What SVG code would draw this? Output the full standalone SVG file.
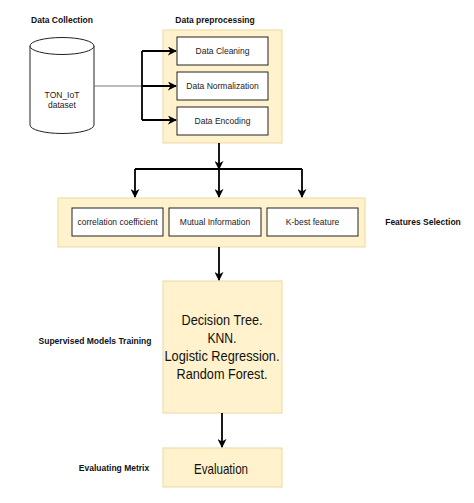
<svg xmlns="http://www.w3.org/2000/svg" width="474" height="503" viewBox="0 0 474 503">
<style>
.bg{fill:#ffffff}
.yel{fill:#fff2cc;stroke:#ecd9a0;stroke-width:1}
.box{fill:#ffffff;stroke:#222222;stroke-width:1}
.t{font-family:"Liberation Sans",Arial,sans-serif;font-size:8.5px;fill:#222222;text-anchor:middle}
.h{font-family:"Liberation Sans",Arial,sans-serif;font-size:8.5px;font-weight:bold;fill:#111111;text-anchor:middle}
.big{font-family:"Liberation Sans",Arial,sans-serif;font-size:14.5px;fill:#111111;text-anchor:middle}
.c{fill:none;stroke:#000000;stroke-width:1.8}
.g{fill:none;stroke:#777777;stroke-width:1}
</style>
<defs>
<marker id="ah" viewBox="0 0 10 10" refX="9" refY="5" markerWidth="5" markerHeight="5" orient="auto" markerUnits="strokeWidth">
<path d="M0,0 L10,5 L0,10 L3,5 Z" fill="#000000"/>
</marker>
</defs>
<rect class="bg" x="0" y="0" width="474" height="503"/>

<g id="labels">
<text class="h" x="62" y="23">Data Collection</text>
<text class="h" x="215" y="23">Data preprocessing</text>
<text class="h" x="423" y="225">Features Selection</text>
<text class="h" x="95" y="344">Supervised Models Training</text>
<text class="h" x="114" y="471">Evaluating Metrix</text>
</g>

<g id="dataset">
<path d="M30,46 L30,125 A32,8.5 0 0 0 94,125 L94,46" fill="#ffffff" stroke="#222222" stroke-width="1"/>
<ellipse cx="62" cy="46" rx="32" ry="8.5" fill="#ffffff" stroke="#222222" stroke-width="1"/>
<text class="t" x="62" y="98">TON_IoT</text>
<text class="t" x="62" y="108">dataset</text>
</g>

<g id="preprocessing">
<rect class="yel" x="163" y="30" width="119" height="113"/>
<g id="cleaning"><rect class="box" x="177" y="37" width="91" height="28"/><text class="t" x="222.5" y="54">Data Cleaning</text></g>
<g id="normalization"><rect class="box" x="177" y="72" width="91" height="28"/><text class="t" x="222.5" y="89">Data Normalization</text></g>
<g id="encoding"><rect class="box" x="177" y="107" width="91" height="28"/><text class="t" x="222.5" y="124">Data Encoding</text></g>
</g>

<g id="features">
<rect class="yel" x="58" y="198" width="307" height="49"/>
<g id="correlation"><rect class="box" x="72" y="208" width="91" height="28"/><text class="t" x="117.5" y="225">correlation coefficient</text></g>
<g id="mutual"><rect class="box" x="169" y="208" width="92" height="28"/><text class="t" x="215" y="225">Mutual Information</text></g>
<g id="kbest"><rect class="box" x="267" y="208" width="91" height="28"/><text class="t" x="312.5" y="225">K-best feature</text></g>
</g>

<g id="models">
<rect class="yel" x="163" y="281" width="119" height="132"/>
<text class="big" x="222" y="325" textLength="81" lengthAdjust="spacingAndGlyphs">Decision Tree.</text>
<text class="big" x="222" y="343" textLength="29" lengthAdjust="spacingAndGlyphs">KNN.</text>
<text class="big" x="222" y="361" textLength="115" lengthAdjust="spacingAndGlyphs">Logistic Regression.</text>
<text class="big" x="222" y="379" textLength="91" lengthAdjust="spacingAndGlyphs">Random Forest.</text>
</g>

<g id="evaluation">
<rect class="yel" x="163" y="448" width="119" height="39"/>
<text class="big" x="221" y="474" textLength="54" lengthAdjust="spacingAndGlyphs">Evaluation</text>
</g>

<g id="connectors">
<path class="g" d="M94,86 L142,86"/>
<path class="c" d="M142,51 L142,120"/>
<path class="c" d="M142,51 L176,51" marker-end="url(#ah)"/>
<path class="c" d="M142,86 L176,86" marker-end="url(#ah)"/>
<path class="c" d="M142,120 L176,120" marker-end="url(#ah)"/>
<path class="c" d="M219,143 L219,169" marker-end="url(#ah)"/>
<path class="c" d="M135,169 L302,169"/>
<path class="c" d="M135,169 L135,197" marker-end="url(#ah)"/>
<path class="c" d="M219,169 L219,197" marker-end="url(#ah)"/>
<path class="c" d="M302,169 L302,197" marker-end="url(#ah)"/>
<path class="c" d="M219,247 L219,280" marker-end="url(#ah)"/>
<path class="c" d="M222,413 L222,447" marker-end="url(#ah)"/>
</g>
</svg>
